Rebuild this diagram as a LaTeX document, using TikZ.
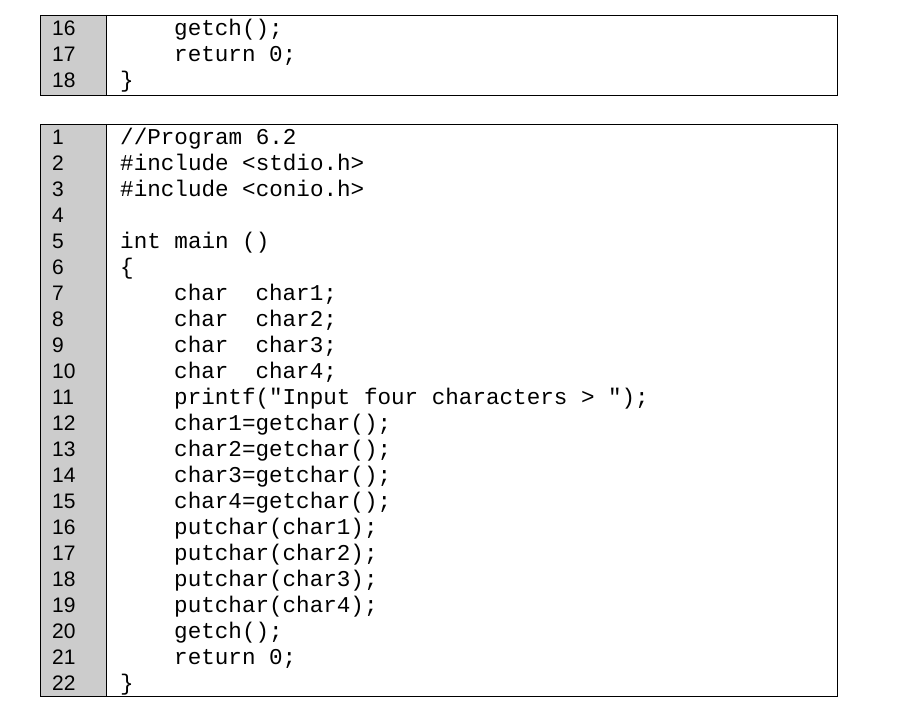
\documentclass[tikz,border=0pt]{standalone}
\usepackage{fontspec}
\setmainfont{Liberation Sans}
\newfontfamily\codefont{Liberation Mono}
\begin{document}
\begin{tikzpicture}[x=1pt,y=-1pt,
  num/.style={anchor=base west,font=\fontsize{21}{21}\selectfont,inner sep=0pt},
  code/.style={anchor=base west,font=\codefont\fontsize{22.6}{22.6}\selectfont,inner sep=0pt},
  frame/.style={draw=black,line width=0.8pt},
  gutter/.style={fill=black!20}]
\useasboundingbox (0,0) rectangle (910,711);
% table 1
\fill[gutter] (40,15) rectangle (106,95);
\draw[frame] (40,15) rectangle (837,95);
\draw[frame] (106,15) -- (106,95);
\foreach \n [count=\i] in {16,17,18} \node[num] (a\i) at (52,{15+26*(\i-0.5)+7.5}) {\n};
\node[code] (c1) at (174,{28+7.5}) {getch();};
\node[code] (c2) at (174,{54+7.5}) {return 0;};
\node[code] (c3) at (120,{80+7.5}) {\}};
% table 2
\fill[gutter] (40,124) rectangle (106,696);
\draw[frame] (40,124) rectangle (837,696);
\draw[frame] (106,124) -- (106,696);
\foreach \i in {1,...,22} \node[num] (b\i) at (52,{124+26*(\i-0.5)+7.5}) {\i};
\foreach \t [count=\i] in {
 {//Program 6.2},
 {\#include <stdio.h>},
 {\#include <conio.h>},
 {},
 {int main ()},
 {\{}}
 \node[code] (d\i) at (120,{124+26*(\i-0.5)+7.5}) {\t};
\foreach \t [count=\j from 7] in {
 {char\ \ char1;},
 {char\ \ char2;},
 {char\ \ char3;},
 {char\ \ char4;},
 {printf("Input four characters > ");},
 {char1=getchar();},
 {char2=getchar();},
 {char3=getchar();},
 {char4=getchar();},
 {putchar(char1);},
 {putchar(char2);},
 {putchar(char3);},
 {putchar(char4);},
 {getch();},
 {return 0;}}
 \node[code] (e\j) at (174,{124+26*(\j-0.5)+7.5}) {\t};
\node[code] (f22) at (120,{124+26*21.5+7.5}) {\}};
\end{tikzpicture}
\end{document}
